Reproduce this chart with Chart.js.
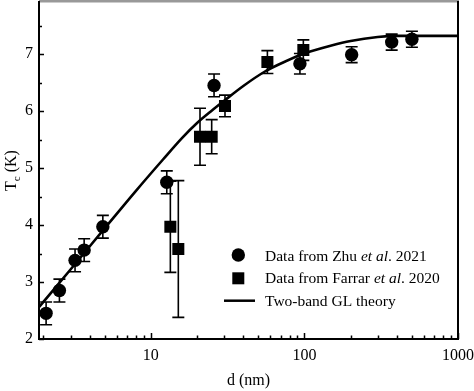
<!DOCTYPE html>
<html><head><meta charset="utf-8">
<script src="https://cdn.jsdelivr.net/npm/chart.js@4"></script>
<style>html,body{margin:0;padding:0;background:#fff}#w{width:474px;height:391px;position:relative}</style>
</head><body><div id="w"><canvas id="c"></canvas></div>
<script>
// Data from Zhu et al. 2021 (circles)
const zhuD   = [2.08, 2.54, 3.21, 3.68, 4.87, 12.7, 25.8, 93.5, 203, 370, 501];
const zhuTc  = [2.45, 2.85, 3.38, 3.56, 3.97, 4.75, 6.45, 6.83, 6.99, 7.21, 7.26];
const zhuErr = [0.20, 0.20, 0.20, 0.20, 0.20, 0.20, 0.20, 0.18, 0.14, 0.14, 0.14];
// Data from Farrar et al. 2020 (squares)
const farD   = [13.4, 15.1, 20.9, 24.9, 30.4, 57.4, 98.4];
const farTc  = [3.97, 3.58, 5.55, 5.55, 6.09, 6.86, 7.07];
const farErr = [0.80, 1.20, 0.50, 0.30, 0.19, 0.20, 0.18];
// Two-band GL theory (curve)
const glD  = [1.87, 3, 5, 8, 12, 16, 20, 25, 30, 40, 55, 75, 100, 150, 200, 300, 400, 1000];
const glTc = [2.56, 3.22, 3.94, 4.60, 5.15, 5.53, 5.79, 6.01, 6.18, 6.44, 6.69, 6.87, 7.01, 7.15, 7.23, 7.30, 7.32, 7.32];
// Axis
const xTickLabels = [10, 100, 1000];
const yTickLabels = [2, 3, 4, 5, 6, 7];
const xTitle = 'd (nm)';
const yTitleMain = 'T', yTitleSub = 'c', yTitleRest = ' (K)';
const seriesLabels = ['Data from Zhu et al. 2021', 'Data from Farrar et al. 2020', 'Two-band GL theory'];
const legendParts = [
  [['Data from Zhu ', false], ['et al', true], ['. 2021', false]],
  [['Data from Farrar ', false], ['et al', true], ['. 2020', false]],
  [['Two-band GL theory', false]]
];

Chart.defaults.font.family = "'Liberation Serif', 'Times New Roman', serif";
Chart.defaults.color = '#000';

const toPts = (xs, ys) => xs.map((x, i) => ({x: x, y: ys[i]}));
const FONT = "'Liberation Serif', 'Times New Roman', serif";

const deco = {
  id: 'deco',
  beforeDatasetsDraw(chart) {
    const ctx = chart.ctx, xs = chart.scales.x, ys = chart.scales.y;
    ctx.save();
    ctx.strokeStyle = '#000';
    ctx.lineWidth = 1.6;
    const bars = [[zhuD, zhuTc, zhuErr], [farD, farTc, farErr]];
    bars.forEach(([D, T, E]) => {
      D.forEach((d, i) => {
        const px = xs.getPixelForValue(d);
        const y1 = ys.getPixelForValue(T[i] + E[i]);
        const y2 = ys.getPixelForValue(T[i] - E[i]);
        ctx.beginPath();
        ctx.moveTo(px, y1); ctx.lineTo(px, y2);
        ctx.moveTo(px - 6, y1); ctx.lineTo(px + 6, y1);
        ctx.moveTo(px - 6, y2); ctx.lineTo(px + 6, y2);
        ctx.stroke();
      });
    });
    ctx.restore();
  },
  afterDraw(chart) {
    const ctx = chart.ctx, a = chart.chartArea, xs = chart.scales.x, ys = chart.scales.y;
    ctx.save();
    // frame
    ctx.strokeStyle = '#999';
    ctx.lineWidth = 2.4;
    ctx.beginPath(); ctx.moveTo(a.left, 1.2); ctx.lineTo(a.right + 1, 1.2); ctx.stroke();
    ctx.strokeStyle = '#000';
    ctx.lineWidth = 2;
    ctx.beginPath();
    ctx.moveTo(a.left, 1); ctx.lineTo(a.left, a.bottom);
    ctx.lineTo(a.right, a.bottom); ctx.lineTo(a.right, 1);
    ctx.stroke();
    // y ticks
    ctx.lineWidth = 1.5;
    ctx.beginPath();
    for (let v = ys.min; v <= ys.max + 1e-9; v += 0.5) {
      const py = Math.round(ys.getPixelForValue(v)) + 0.5;
      const major = Math.abs(v - Math.round(v)) < 1e-6;
      ctx.moveTo(a.left, py); ctx.lineTo(a.left + (major ? 5 : 3), py);
    }
    // x ticks
    for (let e = 0; e <= 3; e++) {
      for (let m = 1; m <= 9; m++) {
        const v = m * Math.pow(10, e);
        if (v < xs.min || v > xs.max) continue;
        const px = Math.round(xs.getPixelForValue(v)) + 0.5;
        ctx.moveTo(px, a.bottom); ctx.lineTo(px, a.bottom - (m === 1 ? 6 : 3.5));
      }
    }
    ctx.stroke();
    // y title
    ctx.fillStyle = '#000';
    ctx.translate(16, 191);
    ctx.rotate(-Math.PI / 2);
    ctx.textBaseline = 'alphabetic';
    ctx.textAlign = 'left';
    ctx.font = '16px ' + FONT;
    ctx.fillText(yTitleMain, 0, 0);
    let w = ctx.measureText(yTitleMain).width;
    ctx.font = '11px ' + FONT;
    ctx.fillText(yTitleSub, w, 3.5);
    w += ctx.measureText(yTitleSub).width;
    ctx.font = '16px ' + FONT;
    ctx.fillText(yTitleRest, w, 0);
    ctx.restore();
    // legend
    ctx.save();
    ctx.fillStyle = '#000';
    ctx.strokeStyle = '#000';
    ctx.beginPath(); ctx.arc(238.3, 255, 6.7, 0, Math.PI * 2); ctx.fill();
    ctx.fillRect(232.3, 272.3, 12, 12);
    ctx.lineWidth = 2.5;
    ctx.beginPath(); ctx.moveTo(224, 300.7); ctx.lineTo(255, 300.7); ctx.stroke();
    const bases = [260.5, 283, 305.5];
    legendParts.forEach((parts, i) => {
      let x = 265;
      parts.forEach(([t, it]) => {
        ctx.font = (it ? 'italic ' : '') + '15.5px ' + FONT;
        ctx.fillText(t, x, bases[i]);
        x += ctx.measureText(t).width;
      });
    });
    ctx.restore();
  }
};

new Chart(document.getElementById('c'), {
  type: 'scatter',
  data: {
    datasets: [
      {label: seriesLabels[2], data: toPts(glD, glTc), showLine: true, pointRadius: 0,
       borderColor: '#000', borderWidth: 2.6, cubicInterpolationMode: 'monotone', order: 3},
      {label: seriesLabels[1], data: toPts(farD, farTc), pointStyle: 'rect', pointRadius: 8.5,
       backgroundColor: '#000', borderColor: '#000', borderWidth: 0, order: 2},
      {label: seriesLabels[0], data: toPts(zhuD, zhuTc), pointStyle: 'circle', pointRadius: 6.7,
       backgroundColor: '#000', borderColor: '#000', borderWidth: 0, order: 1}
    ]
  },
  options: {
    responsive: true, maintainAspectRatio: false, animation: false,
    layout: {padding: {top: 2.6, right: 16, left: 0, bottom: 0}},
    plugins: {legend: {display: false}, tooltip: {enabled: false}},
    scales: {
      x: {
        type: 'logarithmic', min: 1.87, max: 1000,
        grid: {display: false, drawTicks: false}, border: {display: false},
        ticks: {
          autoSkip: false, maxRotation: 0, padding: 7, font: {size: 16},
          callback: v => xTickLabels.some(t => Math.abs(t - v) < 1e-6) ? String(v) : ''
        },
        title: {display: true, text: xTitle, font: {size: 16}, padding: {top: 0, bottom: 1}},
        afterFit: s => { s.height = 52; s.paddingLeft = 0; s.paddingRight = 0; }
      },
      y: {
        type: 'linear', min: 2, max: 7.8,
        grid: {display: false, drawTicks: false}, border: {display: false},
        ticks: {
          stepSize: 1, padding: 6, font: {size: 16},
          callback: v => yTickLabels.includes(v) ? String(v) : ''
        },
        afterFit: s => { s.width = 39; s.paddingTop = 0; s.paddingBottom = 0; }
      }
    }
  },
  plugins: [deco]
});
</script>
</body></html>
